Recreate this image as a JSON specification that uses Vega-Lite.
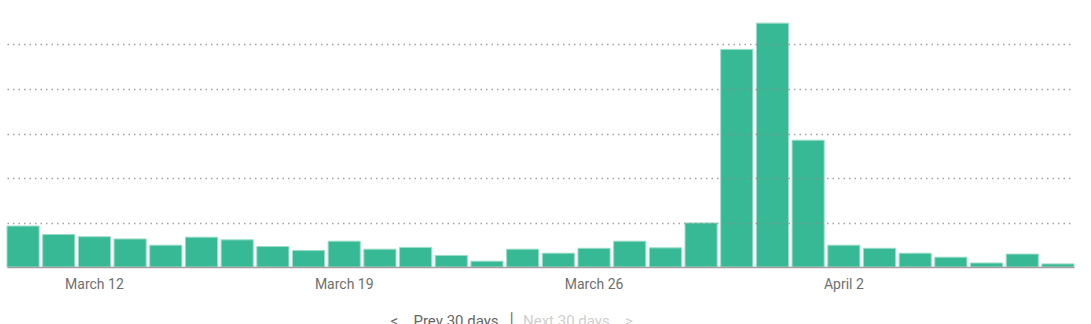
{
  "$schema": "https://vega.github.io/schema/vega-lite/v6.json",
  "autosize": "none",
  "width": 1067,
  "height": 267,
  "padding": {"left": 7, "top": 0, "right": 17, "bottom": 57},
  "background": "white",
  "config": {
    "view": {"stroke": null},
    "font": "Roboto"
  },
  "title": {
    "text": "Next 30 days\u2002\u2002>",
    "orient": "bottom",
    "anchor": "start",
    "frame": "group",
    "baseline": "alphabetic",
    "offset": -2,
    "dx": 516,
    "font": "Roboto",
    "fontSize": 15,
    "fontWeight": "normal",
    "color": "#cfcfcf"
  },
  "data": {
    "values": [
      {"day": "March 10", "views": 9.2},
      {"day": "March 11", "views": 7.3},
      {"day": "March 12", "views": 6.8},
      {"day": "March 13", "views": 6.3},
      {"day": "March 14", "views": 4.9},
      {"day": "March 15", "views": 6.7},
      {"day": "March 16", "views": 6.1},
      {"day": "March 17", "views": 4.6},
      {"day": "March 18", "views": 3.7},
      {"day": "March 19", "views": 5.8},
      {"day": "March 20", "views": 4.0},
      {"day": "March 21", "views": 4.4},
      {"day": "March 22", "views": 2.6},
      {"day": "March 23", "views": 1.3},
      {"day": "March 24", "views": 4.0},
      {"day": "March 25", "views": 3.1},
      {"day": "March 26", "views": 4.2},
      {"day": "March 27", "views": 5.8},
      {"day": "March 28", "views": 4.3},
      {"day": "March 29", "views": 9.9},
      {"day": "March 30", "views": 48.9},
      {"day": "March 31", "views": 54.8},
      {"day": "April 1", "views": 28.5},
      {"day": "April 2", "views": 4.9},
      {"day": "April 3", "views": 4.2},
      {"day": "April 4", "views": 3.1},
      {"day": "April 5", "views": 2.2},
      {"day": "April 6", "views": 0.9},
      {"day": "April 7", "views": 2.9},
      {"day": "April 8", "views": 0.7}
    ]
  },
  "mark": {"type": "bar", "color": "#37b995", "stroke": "#9adcc8", "strokeWidth": 1},
  "encoding": {
    "x": {
      "field": "day",
      "type": "ordinal",
      "sort": null,
      "scale": {"paddingInner": 0.1, "paddingOuter": 0},
      "axis": {
        "values": ["March 12", "March 19", "March 26", "April 2"],
        "labelAngle": 0,
        "labelFont": "Roboto",
        "labelFontSize": 14,
        "labelColor": "#6f6f6f",
        "labelPadding": 10,
        "ticks": false,
        "domainColor": "#a0a0a0",
        "domainWidth": 1.5,
        "zindex": 1,
        "title": "<\u2002\u2002Prev 30 days\u2002│",
        "titleFont": "Roboto",
        "titleFontSize": 15,
        "titleFontWeight": "normal",
        "titleColor": "#666666",
        "titleAlign": "left",
        "titleAnchor": null,
        "titleX": 383,
        "titleY": 58,
        "titleBaseline": "alphabetic"
      }
    },
    "y": {
      "field": "views",
      "type": "quantitative",
      "scale": {"domain": [0, 60], "nice": false},
      "axis": {
        "values": [10, 20, 30, 40, 50],
        "labels": false,
        "ticks": false,
        "domain": false,
        "title": null,
        "grid": true,
        "gridColor": "#8a8a8a",
        "gridOpacity": 0.8,
        "gridDash": [1.5, 4],
        "gridWidth": 1.5,
        "zindex": 1
      }
    }
  }
}
